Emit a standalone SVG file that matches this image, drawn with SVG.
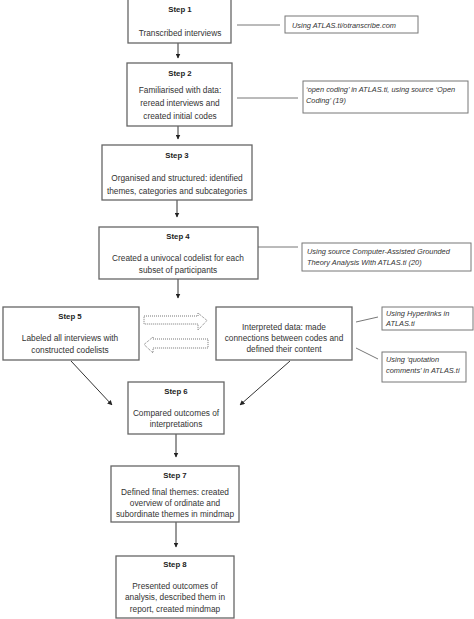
<svg xmlns="http://www.w3.org/2000/svg" width="474" height="619" viewBox="0 0 474 619">
<defs>
<marker id="ah" viewBox="0 0 10 10" refX="9" refY="5" markerWidth="5" markerHeight="5" orient="auto" markerUnits="userSpaceOnUse"><path d="M0,0 L10,5 L0,10 z" fill="#222"/></marker>
</defs>
<style>
.box{fill:#fff;stroke:#666;stroke-width:1.3}
.note{fill:#fff;stroke:#777;stroke-width:1}
.t{font-family:"Liberation Sans",Arial,sans-serif;font-size:8.3px;fill:#333;text-anchor:middle}
.h{font-family:"Liberation Sans",Arial,sans-serif;font-size:7.8px;font-weight:bold;fill:#222;text-anchor:middle}
.n{font-family:"Liberation Sans",Arial,sans-serif;font-size:7.4px;font-style:italic;fill:#333}
.ln{stroke:#777;stroke-width:1;fill:none}
.ar{stroke:#333;stroke-width:1;fill:none;marker-end:url(#ah)}
.dot{fill:#fff;stroke:#777;stroke-width:1;stroke-dasharray:1 1}
</style>
<rect width="474" height="619" fill="#fff"/>
<g id="connectors">
<line class="ar" x1="178" y1="43" x2="178" y2="58"/>
<line class="ar" x1="178" y1="126" x2="178" y2="139"/>
<line class="ar" x1="177" y1="200" x2="177" y2="217"/>
<line class="ar" x1="178" y1="279" x2="178" y2="298"/>
<line class="ar" x1="71" y1="361" x2="112" y2="405"/>
<line class="ar" x1="290" y1="361" x2="240" y2="405"/>
<line class="ar" x1="176" y1="434" x2="176" y2="457"/>
<line class="ar" x1="176" y1="522" x2="176" y2="547"/>
<line class="ln" x1="237" y1="25" x2="280" y2="25"/>
<line class="ln" x1="237" y1="98" x2="298" y2="98"/>
<line class="ln" x1="258" y1="247" x2="298" y2="247"/>
<line class="ln" x1="356" y1="322" x2="378" y2="317"/>
<line class="ln" x1="356" y1="348" x2="378" y2="359"/>
<path class="dot" d="M144,316 L198,316 L198,313 L207,320.5 L198,330 L198,324 L144,324 Z"/>
<path class="dot" d="M208,339 L153,339 L153,337 L144,344.5 L153,353 L153,348 L208,348 Z"/>
</g>
<g id="step1">
<rect class="box" x="128" y="-2" width="103" height="45"/>
<text class="h" x="180" y="12">Step 1</text>
<text class="t" x="180" y="36">Transcribed interviews</text>
</g>
<g id="note1">
<rect class="note" x="285" y="16" width="133" height="17"/>
<text class="n" x="292" y="27.5">Using ATLAS.ti/otranscribe.com</text>
</g>
<g id="step2">
<rect class="box" x="127" y="63" width="105" height="63"/>
<text class="h" x="180" y="76">Step 2</text>
<text class="t" x="180" y="93">Familiarised with data:</text>
<text class="t" x="180" y="106">reread interviews and</text>
<text class="t" x="180" y="119">created initial codes</text>
</g>
<g id="note2">
<rect class="note" x="303" y="81" width="165" height="32"/>
<text class="n" x="306" y="92">‘open coding’ in ATLAS.ti, using source ‘Open</text>
<text class="n" x="306" y="103">Coding’ (19)</text>
</g>
<g id="step3">
<rect class="box" x="102" y="145" width="150" height="55"/>
<text class="h" x="177" y="158">Step 3</text>
<text class="t" x="177" y="181">Organised and structured: identified</text>
<text class="t" x="177" y="194">themes, categories and subcategories</text>
</g>
<g id="step4">
<rect class="box" x="99" y="227" width="159" height="52"/>
<text class="h" x="178" y="239">Step 4</text>
<text class="t" x="178" y="261">Created a univocal codelist for each</text>
<text class="t" x="178" y="273">subset of participants</text>
</g>
<g id="note4">
<rect class="note" x="302" y="243" width="169" height="28"/>
<text class="n" x="307" y="254">Using source Computer-Assisted Grounded</text>
<text class="n" x="307" y="265">Theory Analysis With ATLAS.ti (20)</text>
</g>
<g id="step5">
<rect class="box" x="3" y="307" width="136" height="53"/>
<text class="h" x="70" y="319">Step 5</text>
<text class="t" x="70" y="341">Labeled all interviews with</text>
<text class="t" x="70" y="353">constructed codelists</text>
</g>
<g id="interpret">
<rect class="box" x="216" y="307" width="136" height="53"/>
<text class="t" x="284" y="330">Interpreted data: made</text>
<text class="t" x="284" y="341">connections between codes and</text>
<text class="t" x="284" y="352">defined their content</text>
</g>
<g id="note5a">
<rect class="note" x="382" y="307" width="91" height="23"/>
<text class="n" x="386" y="316">Using Hyperlinks in</text>
<text class="n" x="386" y="326">ATLAS.ti</text>
</g>
<g id="note5b">
<rect class="note" x="382" y="352" width="84" height="30"/>
<text class="n" x="386" y="362">Using ‘quotation</text>
<text class="n" x="386" y="373">comments’ in ATLAS.ti</text>
</g>
<g id="step6">
<rect class="box" x="128" y="382" width="96" height="52"/>
<text class="h" x="176" y="394">Step 6</text>
<text class="t" x="176" y="416">Compared outcomes of</text>
<text class="t" x="176" y="427">interpretations</text>
</g>
<g id="step7">
<rect class="box" x="111" y="466" width="128" height="56"/>
<text class="h" x="175" y="478">Step 7</text>
<text class="t" x="175" y="495">Defined final themes: created</text>
<text class="t" x="175" y="506">overview of ordinate and</text>
<text class="t" x="175" y="517">subordinate themes in mindmap</text>
</g>
<g id="step8">
<rect class="box" x="116" y="556" width="118" height="62"/>
<text class="h" x="175" y="567">Step 8</text>
<text class="t" x="175" y="589">Presented outcomes of</text>
<text class="t" x="175" y="600">analysis, described them in</text>
<text class="t" x="175" y="612">report, created mindmap</text>
</g>
</svg>
